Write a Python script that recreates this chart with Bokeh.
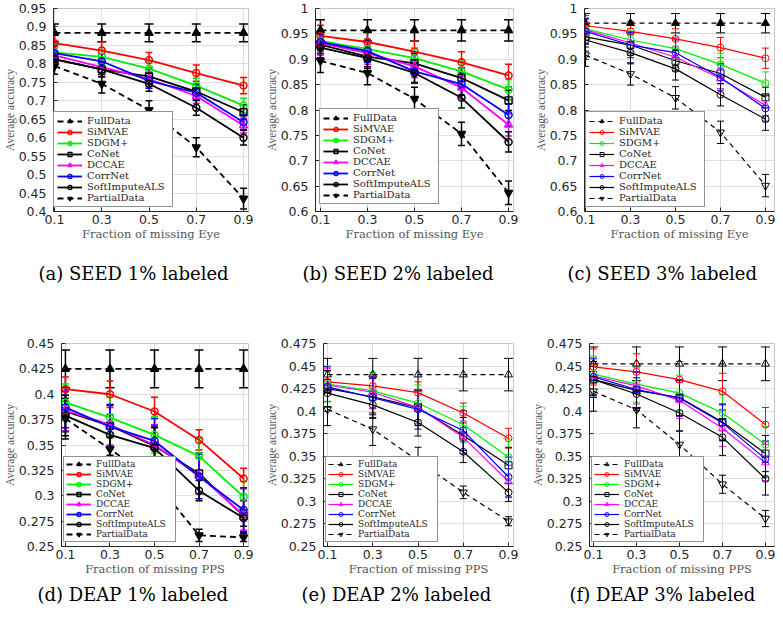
from bokeh.plotting import figure
from bokeh.models import (ColumnDataSource, Whisker, TeeHead, Range1d, FixedTicker,
                          Legend, LegendItem, Title)
from bokeh.layouts import row, column
from bokeh.embed import file_html
from bokeh.resources import INLINE

# ---------------- data ----------------
x_missing = [0.1, 0.3, 0.5, 0.7, 0.9]
x_tick_labels = ["0.1", "0.3", "0.5", "0.7", "0.9"]
series_names = ["FullData", "SiMVAE", "SDGM+", "CoNet", "DCCAE", "CorrNet", "SoftImputeALS", "PartialData"]

captions = ["(a) SEED 1% labeled", "(b) SEED 2% labeled", "(c) SEED 3% labeled",
            "(d) DEAP 1% labeled", "(e) DEAP 2% labeled", "(f) DEAP 3% labeled"]
x_labels = ["Fraction of missing Eye"] * 3 + ["Fraction of missing PPS"] * 3
y_label = "Average accuracy"

seed_a_ticks = [0.4, 0.45, 0.5, 0.55, 0.6, 0.65, 0.7, 0.75, 0.8, 0.85, 0.9, 0.95]
seed_a_tick_labels = ["0.4", "0.45", "0.5", "0.55", "0.6", "0.65", "0.7", "0.75", "0.8", "0.85", "0.9", "0.95"]
seed_bc_ticks = [0.6, 0.65, 0.7, 0.75, 0.8, 0.85, 0.9, 0.95, 1.0]
seed_bc_tick_labels = ["0.6", "0.65", "0.7", "0.75", "0.8", "0.85", "0.9", "0.95", "1"]
deap_d_ticks = [0.25, 0.275, 0.3, 0.325, 0.35, 0.375, 0.4, 0.425, 0.45]
deap_d_tick_labels = ["0.25", "0.275", "0.3", "0.325", "0.35", "0.375", "0.4", "0.425", "0.45"]
deap_ef_ticks = [0.25, 0.275, 0.3, 0.325, 0.35, 0.375, 0.4, 0.425, 0.45, 0.475]
deap_ef_tick_labels = ["0.25", "0.275", "0.3", "0.325", "0.35", "0.375", "0.4", "0.425", "0.45", "0.475"]

# (a) SEED 1%
a_full = [0.884, 0.884, 0.884, 0.884, 0.884]
a_simvae = [0.856, 0.836, 0.810, 0.775, 0.741]
a_sdgm = [0.831, 0.819, 0.787, 0.741, 0.687]
a_conet = [0.812, 0.785, 0.766, 0.725, 0.669]
a_dccae = [0.823, 0.791, 0.759, 0.713, 0.633]
a_corrnet = [0.829, 0.807, 0.754, 0.722, 0.642]
a_soft = [0.813, 0.785, 0.746, 0.681, 0.600]
a_partial = [0.794, 0.746, 0.675, 0.574, 0.435]
a_full_err = [0.024, 0.024, 0.024, 0.024, 0.024]
a_simvae_err = [0.024, 0.023, 0.021, 0.022, 0.022]
a_sdgm_err = [0.020, 0.020, 0.020, 0.020, 0.020]
a_conet_err = [0.020, 0.020, 0.020, 0.020, 0.020]
a_dccae_err = [0.020, 0.020, 0.020, 0.020, 0.020]
a_corrnet_err = [0.020, 0.020, 0.020, 0.020, 0.020]
a_soft_err = [0.020, 0.020, 0.020, 0.020, 0.020]
a_partial_err = [0.022, 0.025, 0.025, 0.026, 0.028]

# (b) SEED 2%
b_full = [0.957, 0.957, 0.957, 0.957, 0.957]
b_simvae = [0.946, 0.934, 0.915, 0.894, 0.868]
b_sdgm = [0.936, 0.920, 0.902, 0.876, 0.840]
b_conet = [0.929, 0.905, 0.892, 0.863, 0.819]
b_dccae = [0.932, 0.912, 0.886, 0.844, 0.771]
b_corrnet = [0.934, 0.916, 0.876, 0.851, 0.790]
b_soft = [0.923, 0.902, 0.873, 0.824, 0.737]
b_partial = [0.897, 0.873, 0.822, 0.753, 0.637]
b_full_err = [0.021, 0.021, 0.021, 0.021, 0.021]
b_simvae_err = [0.021, 0.021, 0.021, 0.021, 0.022]
b_sdgm_err = [0.020, 0.020, 0.020, 0.020, 0.020]
b_conet_err = [0.020, 0.020, 0.020, 0.020, 0.020]
b_dccae_err = [0.022, 0.022, 0.022, 0.022, 0.022]
b_corrnet_err = [0.022, 0.022, 0.022, 0.022, 0.022]
b_soft_err = [0.020, 0.020, 0.020, 0.020, 0.020]
b_partial_err = [0.023, 0.023, 0.023, 0.023, 0.023]

# (c) SEED 3%
c_full = [0.971, 0.971, 0.971, 0.971, 0.971]
c_simvae = [0.966, 0.955, 0.940, 0.923, 0.902]
c_sdgm = [0.960, 0.938, 0.921, 0.890, 0.853]
c_conet = [0.944, 0.928, 0.897, 0.872, 0.825]
c_dccae = [0.958, 0.932, 0.904, 0.862, 0.809]
c_corrnet = [0.955, 0.928, 0.913, 0.864, 0.803]
c_soft = [0.938, 0.913, 0.881, 0.830, 0.782]
c_partial = [0.908, 0.871, 0.824, 0.756, 0.651]
c_full_err = [0.019, 0.019, 0.019, 0.019, 0.019]
c_simvae_err = [0.020, 0.020, 0.020, 0.020, 0.020]
c_sdgm_err = [0.022, 0.022, 0.022, 0.022, 0.022]
c_conet_err = [0.020, 0.020, 0.020, 0.020, 0.020]
c_dccae_err = [0.020, 0.020, 0.020, 0.020, 0.020]
c_corrnet_err = [0.025, 0.025, 0.025, 0.025, 0.025]
c_soft_err = [0.022, 0.022, 0.022, 0.022, 0.022]
c_partial_err = [0.022, 0.022, 0.022, 0.022, 0.022]

# (d) DEAP 1%
d_full = [0.425, 0.425, 0.425, 0.425, 0.425]
d_simvae = [0.405, 0.400, 0.383, 0.355, 0.317]
d_sdgm = [0.392, 0.377, 0.360, 0.339, 0.299]
d_conet = [0.383, 0.369, 0.349, 0.322, 0.280]
d_dccae = [0.384, 0.370, 0.350, 0.320, 0.281]
d_corrnet = [0.387, 0.368, 0.354, 0.319, 0.286]
d_soft = [0.379, 0.360, 0.347, 0.305, 0.278]
d_partial = [0.376, 0.346, 0.315, 0.261, 0.259]
d_full_err = [0.0185, 0.0185, 0.0185, 0.0185, 0.0185]
d_simvae_err = [0.012, 0.013, 0.014, 0.010, 0.010]
d_sdgm_err = [0.018, 0.020, 0.018, 0.018, 0.015]
d_conet_err = [0.020, 0.020, 0.020, 0.020, 0.015]
d_dccae_err = [0.020, 0.020, 0.020, 0.018, 0.015]
d_corrnet_err = [0.020, 0.022, 0.022, 0.022, 0.022]
d_soft_err = [0.020, 0.020, 0.020, 0.010, 0.008]
d_partial_err = [0.020, 0.012, 0.015, 0.006, 0.004]

# (e) DEAP 2%
e_full = [0.4405, 0.4405, 0.4405, 0.4405, 0.4405]
e_simvae = [0.4325, 0.428, 0.4205, 0.398, 0.370]
e_sdgm = [0.430, 0.4225, 0.409, 0.385, 0.349]
e_conet = [0.425, 0.416, 0.404, 0.373, 0.340]
e_dccae = [0.429, 0.421, 0.404, 0.371, 0.322]
e_corrnet = [0.427, 0.415, 0.402, 0.3785, 0.327]
e_soft = [0.420, 0.407, 0.3875, 0.355, 0.310]
e_partial = [0.402, 0.380, 0.345, 0.310, 0.278]
e_full_err = [0.018, 0.018, 0.018, 0.018, 0.018]
e_simvae_err = [0.012, 0.012, 0.012, 0.011, 0.011]
e_sdgm_err = [0.020, 0.020, 0.020, 0.020, 0.020]
e_conet_err = [0.020, 0.020, 0.020, 0.020, 0.020]
e_dccae_err = [0.018, 0.018, 0.018, 0.018, 0.018]
e_corrnet_err = [0.022, 0.022, 0.022, 0.022, 0.022]
e_soft_err = [0.015, 0.015, 0.015, 0.012, 0.010]
e_partial_err = [0.018, 0.018, 0.015, 0.007, 0.005]

# (f) DEAP 3%
f_full = [0.4525, 0.4525, 0.4525, 0.4525, 0.4525]
f_simvae = [0.449, 0.4435, 0.435, 0.422, 0.385]
f_sdgm = [0.441, 0.430, 0.420, 0.398, 0.363]
f_conet = [0.435, 0.423, 0.415, 0.388, 0.353]
f_dccae = [0.439, 0.428, 0.412, 0.381, 0.343]
f_corrnet = [0.438, 0.424, 0.4145, 0.387, 0.347]
f_soft = [0.435, 0.419, 0.398, 0.371, 0.325]
f_partial = [0.422, 0.4015, 0.363, 0.319, 0.281]
f_full_err = [0.0187, 0.0187, 0.0187, 0.0187, 0.0187]
f_simvae_err = [0.020, 0.020, 0.020, 0.020, 0.019]
f_sdgm_err = [0.020, 0.020, 0.020, 0.020, 0.020]
f_conet_err = [0.020, 0.020, 0.020, 0.020, 0.020]
f_dccae_err = [0.020, 0.020, 0.020, 0.020, 0.020]
f_corrnet_err = [0.020, 0.020, 0.020, 0.020, 0.020]
f_soft_err = [0.018, 0.018, 0.020, 0.020, 0.018]
f_partial_err = [0.022, 0.020, 0.015, 0.010, 0.009]

# ---------------- assembly ----------------
panel_means = [
    [a_full, a_simvae, a_sdgm, a_conet, a_dccae, a_corrnet, a_soft, a_partial],
    [b_full, b_simvae, b_sdgm, b_conet, b_dccae, b_corrnet, b_soft, b_partial],
    [c_full, c_simvae, c_sdgm, c_conet, c_dccae, c_corrnet, c_soft, c_partial],
    [d_full, d_simvae, d_sdgm, d_conet, d_dccae, d_corrnet, d_soft, d_partial],
    [e_full, e_simvae, e_sdgm, e_conet, e_dccae, e_corrnet, e_soft, e_partial],
    [f_full, f_simvae, f_sdgm, f_conet, f_dccae, f_corrnet, f_soft, f_partial],
]
panel_errs = [
    [a_full_err, a_simvae_err, a_sdgm_err, a_conet_err, a_dccae_err, a_corrnet_err, a_soft_err, a_partial_err],
    [b_full_err, b_simvae_err, b_sdgm_err, b_conet_err, b_dccae_err, b_corrnet_err, b_soft_err, b_partial_err],
    [c_full_err, c_simvae_err, c_sdgm_err, c_conet_err, c_dccae_err, c_corrnet_err, c_soft_err, c_partial_err],
    [d_full_err, d_simvae_err, d_sdgm_err, d_conet_err, d_dccae_err, d_corrnet_err, d_soft_err, d_partial_err],
    [e_full_err, e_simvae_err, e_sdgm_err, e_conet_err, e_dccae_err, e_corrnet_err, e_soft_err, e_partial_err],
    [f_full_err, f_simvae_err, f_sdgm_err, f_conet_err, f_dccae_err, f_corrnet_err, f_soft_err, f_partial_err],
]
panel_yticks = [(seed_a_ticks, seed_a_tick_labels), (seed_bc_ticks, seed_bc_tick_labels),
                (seed_bc_ticks, seed_bc_tick_labels), (deap_d_ticks, deap_d_tick_labels),
                (deap_ef_ticks, deap_ef_tick_labels), (deap_ef_ticks, deap_ef_tick_labels)]

# ---------------- styles / layout ----------------
colors = ["#000000", "#ff0000", "#00ee00", "#000000", "#ff00ff", "#0000ff", "#000000", "#000000"]
markers = ["triangle", "circle", "circle", "square", "triangle", "circle", "circle", "inverted_triangle"]
dashed = [True, False, False, False, False, False, False, True]

top = dict(h=308, t=8, b=97, fs=10, pad=3, lw_lab=82, std=34)
bot = dict(h=300, t=35, b=62, fs=9, pad=2, lw_lab=77, std=7)
layout_cfg = [
    dict(top, w=262, l=52, r=14, xr=(0.0958, 0.921), yr=(0.4, 0.95), leg=(0, 4), bold=True, cap_off=-15),
    dict(top, w=261, l=52, r=10, xr=(0.079, 0.921), yr=(0.6, 1.0), leg=(4, 7), bold=True, cap_off=-13),
    dict(top, w=252, l=61, r=1, xr=(0.0956, 0.94), yr=(0.6, 1.0), leg=(1, 4), bold=False, cap_off=-17),
    dict(bot, w=262, l=57, r=14, xr=(0.0824, 0.922), yr=(0.25, 0.45), leg=(2, 4), bold=True, cap_off=-24),
    dict(bot, w=261, l=61, r=10, xr=(0.0823, 0.922), yr=(0.25, 0.475), leg=(2, 4), bold=False, cap_off=-22),
    dict(bot, w=252, l=66, r=1, xr=(0.0814, 0.942), yr=(0.25, 0.475), leg=(2, 4), bold=False, cap_off=-20),
]

figs = []
for k in range(6):
    cfg = layout_cfg[k]
    p = figure(width=cfg["w"], height=cfg["h"], x_range=Range1d(*cfg["xr"]), y_range=Range1d(*cfg["yr"]),
               output_backend="svg", toolbar_location=None,
               min_border_left=cfg["l"], min_border_right=cfg["r"],
               min_border_top=cfg["t"], min_border_bottom=cfg["b"])
    p.background_fill_color = "white"
    p.border_fill_color = "white"
    p.outline_line_color = "#c8c8c8"
    p.outline_line_width = 1

    yt, ytl = panel_yticks[k]
    p.xaxis.ticker = FixedTicker(ticks=x_missing)
    p.xaxis.major_label_overrides = {v: s for v, s in zip(x_missing, x_tick_labels)}
    p.yaxis.ticker = FixedTicker(ticks=yt)
    p.yaxis.major_label_overrides = {v: s for v, s in zip(yt, ytl)}
    for ax in (p.xaxis[0], p.yaxis[0]):
        ax.major_tick_in = 4
        ax.major_tick_out = 0
        ax.minor_tick_line_color = None
        ax.axis_line_color = "#262626"
        ax.major_tick_line_color = "#262626"
        ax.major_label_text_font = "DejaVu Sans"
        ax.major_label_text_font_size = "12.5px"
        ax.major_label_text_color = "#262626"
        ax.axis_label_text_font_style = "normal"
        ax.axis_label_text_color = "#555555"
        ax.axis_label_standoff = 0
    p.xaxis.major_label_standoff = 3
    p.yaxis.major_label_standoff = 7
    p.xaxis.axis_label = x_labels[k]
    p.xaxis.axis_label_text_font = "DejaVu Serif"
    p.xaxis.axis_label_text_font_size = "11.5px"
    p.yaxis.axis_label = y_label
    p.yaxis.axis_label_text_font = "Liberation Serif"
    p.yaxis.axis_label_text_font_size = "11.5px"
    p.xgrid.grid_line_color = "#dedede"
    p.ygrid.grid_line_color = "#dedede"

    lw = 1.8 if cfg["bold"] else 1.2
    wlw = 1.5 if cfg["bold"] else 1.0
    items = []
    for s in range(8):
        m = panel_means[k][s]
        e = panel_errs[k][s]
        src = ColumnDataSource(dict(x=x_missing, y=m,
                                    lower=[a - b for a, b in zip(m, e)],
                                    upper=[a + b for a, b in zip(m, e)]))
        c = colors[s]
        cap = 9 if s == 0 else 7
        wh = Whisker(source=src, base="x", upper="upper", lower="lower",
                     line_color=c, line_width=wlw,
                     upper_head=TeeHead(size=cap, line_color=c, line_width=wlw),
                     lower_head=TeeHead(size=cap, line_color=c, line_width=wlw))
        p.add_layout(wh)
        dash = ("6 4" if cfg["bold"] else "5 4") if dashed[s] else "solid"
        lr = p.line("x", "y", source=src, line_color=c, line_width=lw, line_dash=dash)
        filled = dashed[s] and (cfg["bold"] or (k == 2 and s == 0))
        msize = 8 if markers[s] in ("triangle", "inverted_triangle") else 7
        sr = p.scatter("x", "y", source=src, marker=markers[s], size=msize,
                       line_color=c, line_width=lw * 0.8,
                       fill_color=c if filled else None)
        items.append(LegendItem(label=series_names[s], renderers=[lr, sr]))

    leg = Legend(items=items, location=cfg["leg"], margin=0,
                 padding=cfg["pad"], spacing=-3,
                 glyph_width=25, glyph_height=10, label_height=10,
                 label_width=cfg["lw_lab"], label_standoff=5,
                 label_text_font="DejaVu Serif", label_text_font_size=f'{cfg["fs"]}px',
                 label_text_color="#262626",
                 border_line_color="#262626", border_line_width=1,
                 background_fill_color="white", background_fill_alpha=1.0)
    p.add_layout(leg)

    t = Title(text=captions[k], align="left", offset=cfg["cap_off"], standoff=cfg["std"],
              text_font="DejaVu Serif", text_font_size="18px",
              text_font_style="normal", text_color="#000000")
    p.add_layout(t, "below")
    figs.append(p)

layout = column(row(figs[0], figs[1], figs[2]), row(figs[3], figs[4], figs[5]))
open("out.html", "w").write(file_html(layout, INLINE))
